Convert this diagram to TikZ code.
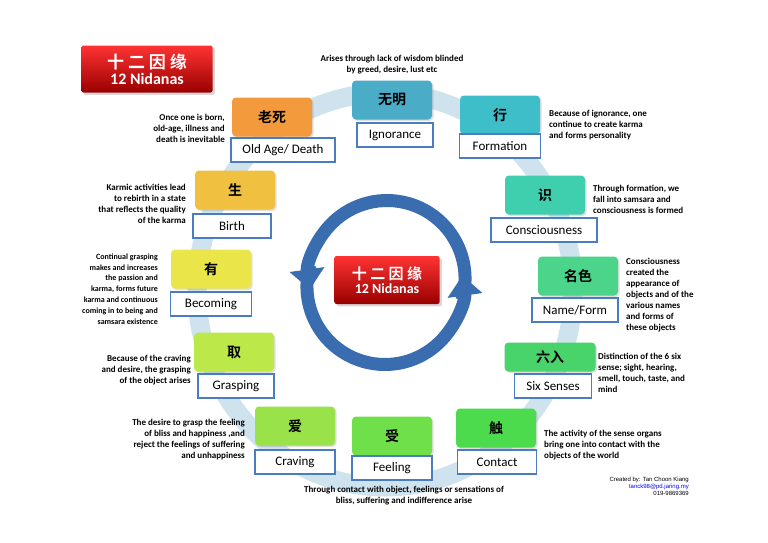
\documentclass[tikz,border=0pt]{standalone}
\usepackage{fontspec}
\setmainfont{Carlito}
\newfontfamily\cjk{Noto Sans CJK SC}[BoldFont={Noto Sans CJK SC Bold}]
\newfontfamily\arialf{Liberation Sans}
\usetikzlibrary{arrows.meta,shadows}
\definecolor{ring}{HTML}{CFE3EE}
\definecolor{dblue}{HTML}{3A6DB0}
\definecolor{lbl}{HTML}{4A7CC0}
\tikzset{
 cbox/.style={rounded corners=4pt,minimum width=80pt,minimum height=39pt,inner sep=0pt,font=\cjk\bfseries\fontsize{14}{14}\selectfont,drop shadow={opacity=0.25,shadow xshift=1.5pt,shadow yshift=-1.5pt}},
 lbox/.style={draw=lbl,line width=1.3pt,fill=white,minimum height=24pt,inner sep=2pt,font=\fontsize{13}{13}\selectfont},
 desc/.style={font=\bfseries\fontsize{9}{11}\selectfont,inner sep=0pt},
 redbox/.style={rounded corners=2pt,top color=red!80!white,bottom color=red!60!black,text=white,align=center,inner sep=0pt,drop shadow={opacity=0.3}},
}
\begin{document}
\begin{tikzpicture}[x=1pt,y=-1pt]
\useasboundingbox (0,0) rectangle (768,542);
\fill[white] (0,0) rectangle (768,542);
% ring
\draw[ring,line width=19pt] (385,290) ellipse [x radius=188,y radius=197];
% colored boxes
\node[cbox,fill={rgb,255:red,243;green,154;blue,60}] (c1) at (272,117) {老死};
\node[lbox,minimum width=104pt] (l1) at (283,150) {Old Age/ Death};
\node[cbox,fill={rgb,255:red,74;green,172;blue,198}] (c2) at (392,100) {无明};
\node[lbox,minimum width=76pt] (l2) at (395,135) {Ignorance};
\node[cbox,fill={rgb,255:red,62;green,190;blue,200}] (c3) at (500,115) {行};
\node[lbox,minimum width=81pt] (l3) at (500,146) {Formation};
\node[cbox,fill={rgb,255:red,63;green,207;blue,175}] (c4) at (545,195) {识};
\node[lbox,minimum width=106pt] (l4) at (544,230) {Consciousness};
\node[cbox,fill={rgb,255:red,75;green,212;blue,138}] (c5) at (578,276) {名色};
\node[lbox,minimum width=86pt] (l5) at (575,310) {Name/Form};
\node[cbox,fill={rgb,255:red,72;green,212;blue,106},minimum width=91pt,minimum height=29pt] (c6) at (550,357) {六入};
\node[lbox,minimum width=77pt] (l6) at (553,386) {Six Senses};
\node[cbox,fill={rgb,255:red,76;green,219;blue,76}] (c7) at (496,428) {触};
\node[lbox,minimum width=79pt] (l7) at (497,462) {Contact};
\node[cbox,fill={rgb,255:red,111;green,224;blue,74}] (c8) at (392,436) {受};
\node[lbox,minimum width=80pt] (l8) at (392,468) {Feeling};
\node[cbox,fill={rgb,255:red,154;green,226;blue,74}] (c9) at (295,426) {爱};
\node[lbox,minimum width=80pt] (l9) at (295,462) {Craving};
\node[cbox,fill={rgb,255:red,189;green,232;blue,74}] (c10) at (234,352) {取};
\node[lbox,minimum width=76pt] (l10) at (236,386) {Grasping};
\node[cbox,fill={rgb,255:red,234;green,230;blue,74}] (c11) at (211,269) {有};
\node[lbox,minimum width=81pt] (l11) at (211,304) {Becoming};
\node[cbox,fill={rgb,255:red,240;green,192;blue,64}] (c12) at (235,190) {生};
\node[lbox,minimum width=78pt] (l12) at (232,226) {Birth};
% title
\node[redbox,minimum width=131pt,minimum height=47pt] (t1) at (147,69) {{\cjk\bfseries\fontsize{17}{17}\selectfont 十 二 因 缘}\\[2pt]{\bfseries\fontsize{16}{16}\selectfont 12 Nidanas}};
% center arrows
\draw[dblue,line width=13pt,-{Triangle[length=20pt,width=34pt]}] (310,265) arc[start angle=196,end angle=-8,radius=78];
\draw[dblue,line width=13pt,-{Triangle[length=20pt,width=34pt]}] (462,300) arc[start angle=16,end angle=-188,radius=78];
\node[redbox,minimum width=105pt,minimum height=48pt] (t2) at (387,280) {{\cjk\bfseries\fontsize{15}{15}\selectfont 十 二 因 缘}\\[2pt]{\bfseries\fontsize{14}{14}\selectfont 12 Nidanas}};
% descriptions
\node[desc,align=center] (d2) at (392,65) {Arises through lack of wisdom blinded\\by greed, desire, lust etc};
\node[desc,align=right,anchor=east] (d1) at (225,128) {Once one is born,\\old-age, illness and\\death is inevitable};
\node[desc,align=left,anchor=west] (d3) at (549,125) {Because of ignorance, one\\continue to create karma\\and forms personality};
\node[desc,align=left,anchor=west] (d4) at (593,199) {Through formation, we\\fall into samsara and\\consciousness is formed};
\node[desc,align=left,anchor=west] (d5) at (626,295) {Consciousness\\created the\\appearance of\\objects and of the\\various names\\and forms of\\these objects};
\node[desc,align=left,anchor=west] (d6) at (598,373) {Distinction of the 6 six\\sense; sight, hearing,\\smell, touch, taste, and\\mind};
\node[desc,align=left,anchor=west] (d7) at (544,445) {The activity of the sense organs\\bring one into contact with the\\objects of the world};
\node[desc,align=center] (d8) at (404,496) {Through contact with object, feelings or sensations of\\bliss, suffering and indifference arise};
\node[desc,align=right,anchor=east] (d9) at (245,440) {The desire to grasp the feeling\\of bliss and happiness ,and\\reject the feelings of suffering\\and unhappiness};
\node[desc,align=right,anchor=east] (d10) at (191,370) {Because of the craving\\and desire, the grasping\\of the object arises};
\node[desc,align=right,anchor=east,font=\bfseries\fontsize{8}{10.8}\selectfont] (d11) at (158,289) {Continual grasping\\makes and increases\\the passion and\\karma, forms future\\karma and continuous\\coming in to being and\\samsara existence};
\node[desc,align=right,anchor=east] (d12) at (186,204) {Karmic activities lead\\to rebirth in a state\\that reflects the quality\\of the karma};
\node[align=right,anchor=east,inner sep=0pt,font=\arialf\fontsize{6}{7}\selectfont] (cr) at (689,486) {Created by: Tan Choon Kiang\\\textcolor{blue}{tanck98@pd.jaring.my}\\019-9869369};
\end{tikzpicture}
\end{document}
